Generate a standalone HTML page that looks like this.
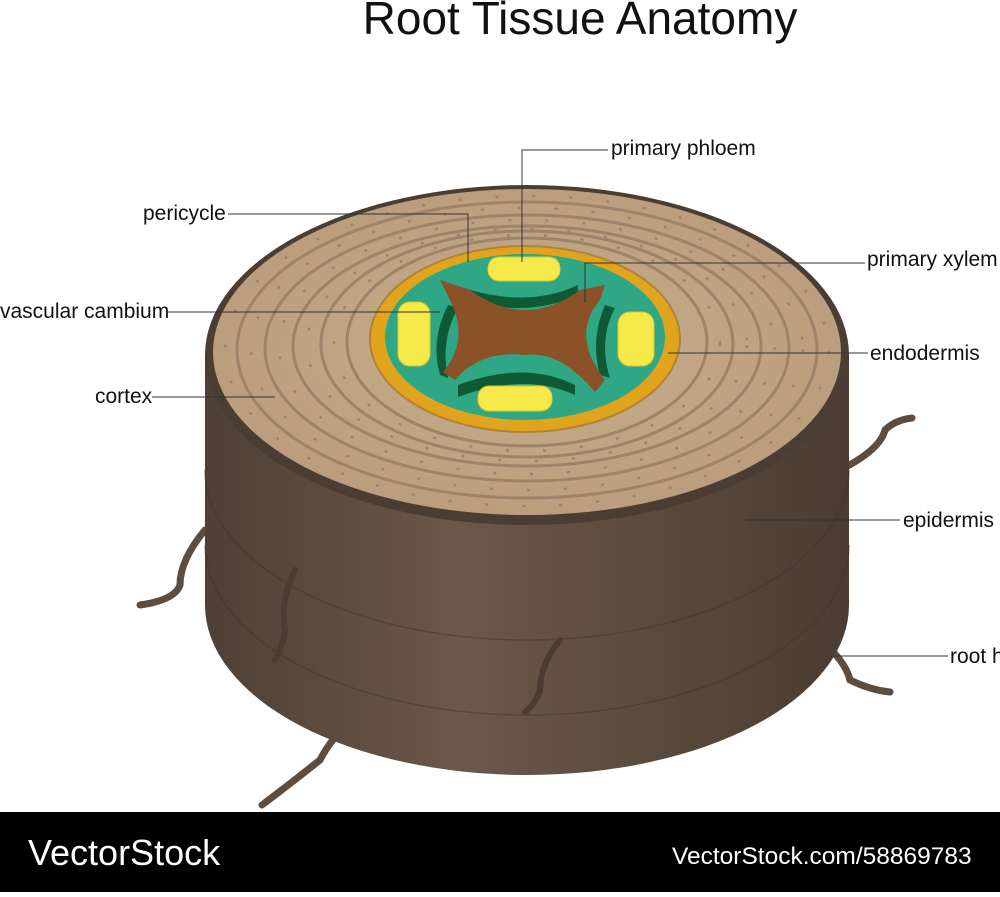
<!DOCTYPE html>
<html><head><style>
body{margin:0;background:#fff;width:1000px;height:892px;overflow:hidden;font-family:"Liberation Sans",sans-serif}
</style></head><body>
<svg width="1000" height="892" viewBox="0 0 1000 892" xmlns="http://www.w3.org/2000/svg">
<defs>
<radialGradient id="top" cx="0.5" cy="0.5" r="0.6"><stop offset="0" stop-color="#c9b08f"/><stop offset="1" stop-color="#b79a79"/></radialGradient>
<linearGradient id="side" x1="0" x2="1"><stop offset="0" stop-color="#4e4036"/><stop offset="0.4" stop-color="#6a5849"/><stop offset="1" stop-color="#4a3c32"/></linearGradient>
</defs>
<text x="580" y="34" font-size="46" text-anchor="middle" fill="#111">Root Tissue Anatomy</text>
<!-- root hairs -->
<g fill="none" stroke="#5e4c3f" stroke-width="7" stroke-linecap="round">
<path d="M205 530 Q180 560 180 585 Q175 600 140 605"/>
<path d="M840 470 Q880 450 885 430 Q895 420 912 418"/>
<path d="M820 640 Q845 660 850 680 Q870 690 890 692"/>
<path d="M355 715 Q330 740 320 760 Q295 780 262 805"/>
</g>
<!-- cylinder side -->
<path d="M205 355 L205 605 A322 170 0 0 0 849 605 L849 355 Z" fill="url(#side)"/>
<g fill="none" stroke="#3f332a" stroke-width="1.5" opacity="0.45">
<path d="M205 470 A322 170 0 0 0 849 470"/>
<path d="M205 545 A322 170 0 0 0 849 545"/>
</g>
<g fill="none" stroke="#4a3c32" stroke-width="6" stroke-linecap="round">
<path d="M560 640 Q540 665 540 690 Q535 705 525 712"/>
<path d="M295 570 Q280 600 285 630 Q282 650 275 660"/>
</g>
<!-- top -->
<ellipse cx="527" cy="355" rx="322" ry="170" fill="#4a3d33"/>
<ellipse cx="527" cy="352" rx="314" ry="163" fill="url(#top)"/>
<g fill="none" stroke="#9c8369" stroke-width="3">
<ellipse cx="527" cy="350" rx="290" ry="148"/>
<ellipse cx="527" cy="348" rx="262" ry="133"/>
<ellipse cx="527" cy="346" rx="234" ry="120"/>
<ellipse cx="527" cy="344" rx="206" ry="113"/>
<ellipse cx="527" cy="342" rx="180" ry="104"/>
</g>
<g fill="none" stroke="#9c8369" stroke-width="2.5" stroke-dasharray="3 34">
<ellipse cx="527" cy="351" rx="302" ry="155"/>
<ellipse cx="527" cy="349" rx="276" ry="141"/>
<ellipse cx="527" cy="347" rx="248" ry="127"/>
<ellipse cx="527" cy="345" rx="220" ry="116"/>
<ellipse cx="527" cy="343" rx="193" ry="108"/>
</g>
<!-- vascular -->
<ellipse cx="525" cy="339" rx="155" ry="93" fill="#e0a51c" stroke="#b0823a" stroke-width="2"/>
<ellipse cx="525" cy="337" rx="140" ry="83" fill="#2fa784"/>
<g fill="#0d5a35">
<path d="M455 285 Q525 310 578 285 L578 295 Q525 320 455 297 Z"/>
<path d="M458 385 Q525 360 575 385 L575 395 Q525 372 458 397 Z"/>
<path d="M448 305 Q430 340 440 375 L448 378 Q440 340 458 308 Z"/>
<path d="M605 305 Q590 340 600 375 L610 378 Q598 340 615 308 Z"/>
</g>
<path d="M440 280 L470 290 Q525 330 580 290 L605 285 L600 300 Q570 335 605 380 L595 392 Q560 350 525 355 Q480 350 455 380 L443 372 Q470 340 450 300 Z" fill="#8b5127"/>
<g fill="#f5ea4a" stroke="#e0c62a">
<rect x="488" y="257" width="72" height="24" rx="11"/>
<rect x="478" y="386" width="74" height="25" rx="11"/>
<rect x="398" y="302" width="32" height="64" rx="12"/>
<rect x="618" y="312" width="36" height="54" rx="12"/>
</g>
<!-- leader lines -->
<g stroke="#333" stroke-width="1" fill="none">
<path d="M522 262 V150 H608"/>
<path d="M228 214 H468 V262"/>
<path d="M585 303 V263 H865"/>
<path d="M168 312 H440"/>
<path d="M668 353 H868"/>
<path d="M152 397 H275"/>
<path d="M745 520 H900"/>
<path d="M835 656 H948"/>
</g>
<g font-size="21" fill="#111">
<text x="611" y="155">primary phloem</text>
<text x="143" y="220">pericycle</text>
<text x="867" y="266">primary xylem</text>
<text x="0" y="318">vascular cambium</text>
<text x="870" y="360">endodermis</text>
<text x="95" y="403">cortex</text>
<text x="903" y="527">epidermis</text>
<text x="950" y="663">root hair</text>
</g>
<rect x="0" y="812" width="1000" height="80" fill="#000"/>
<text x="28" y="865" font-size="36" fill="#fff">VectorStock</text>
<text x="672" y="864" font-size="24.5" fill="#fff">VectorStock.com/58869783</text>
</svg>
</body></html>
